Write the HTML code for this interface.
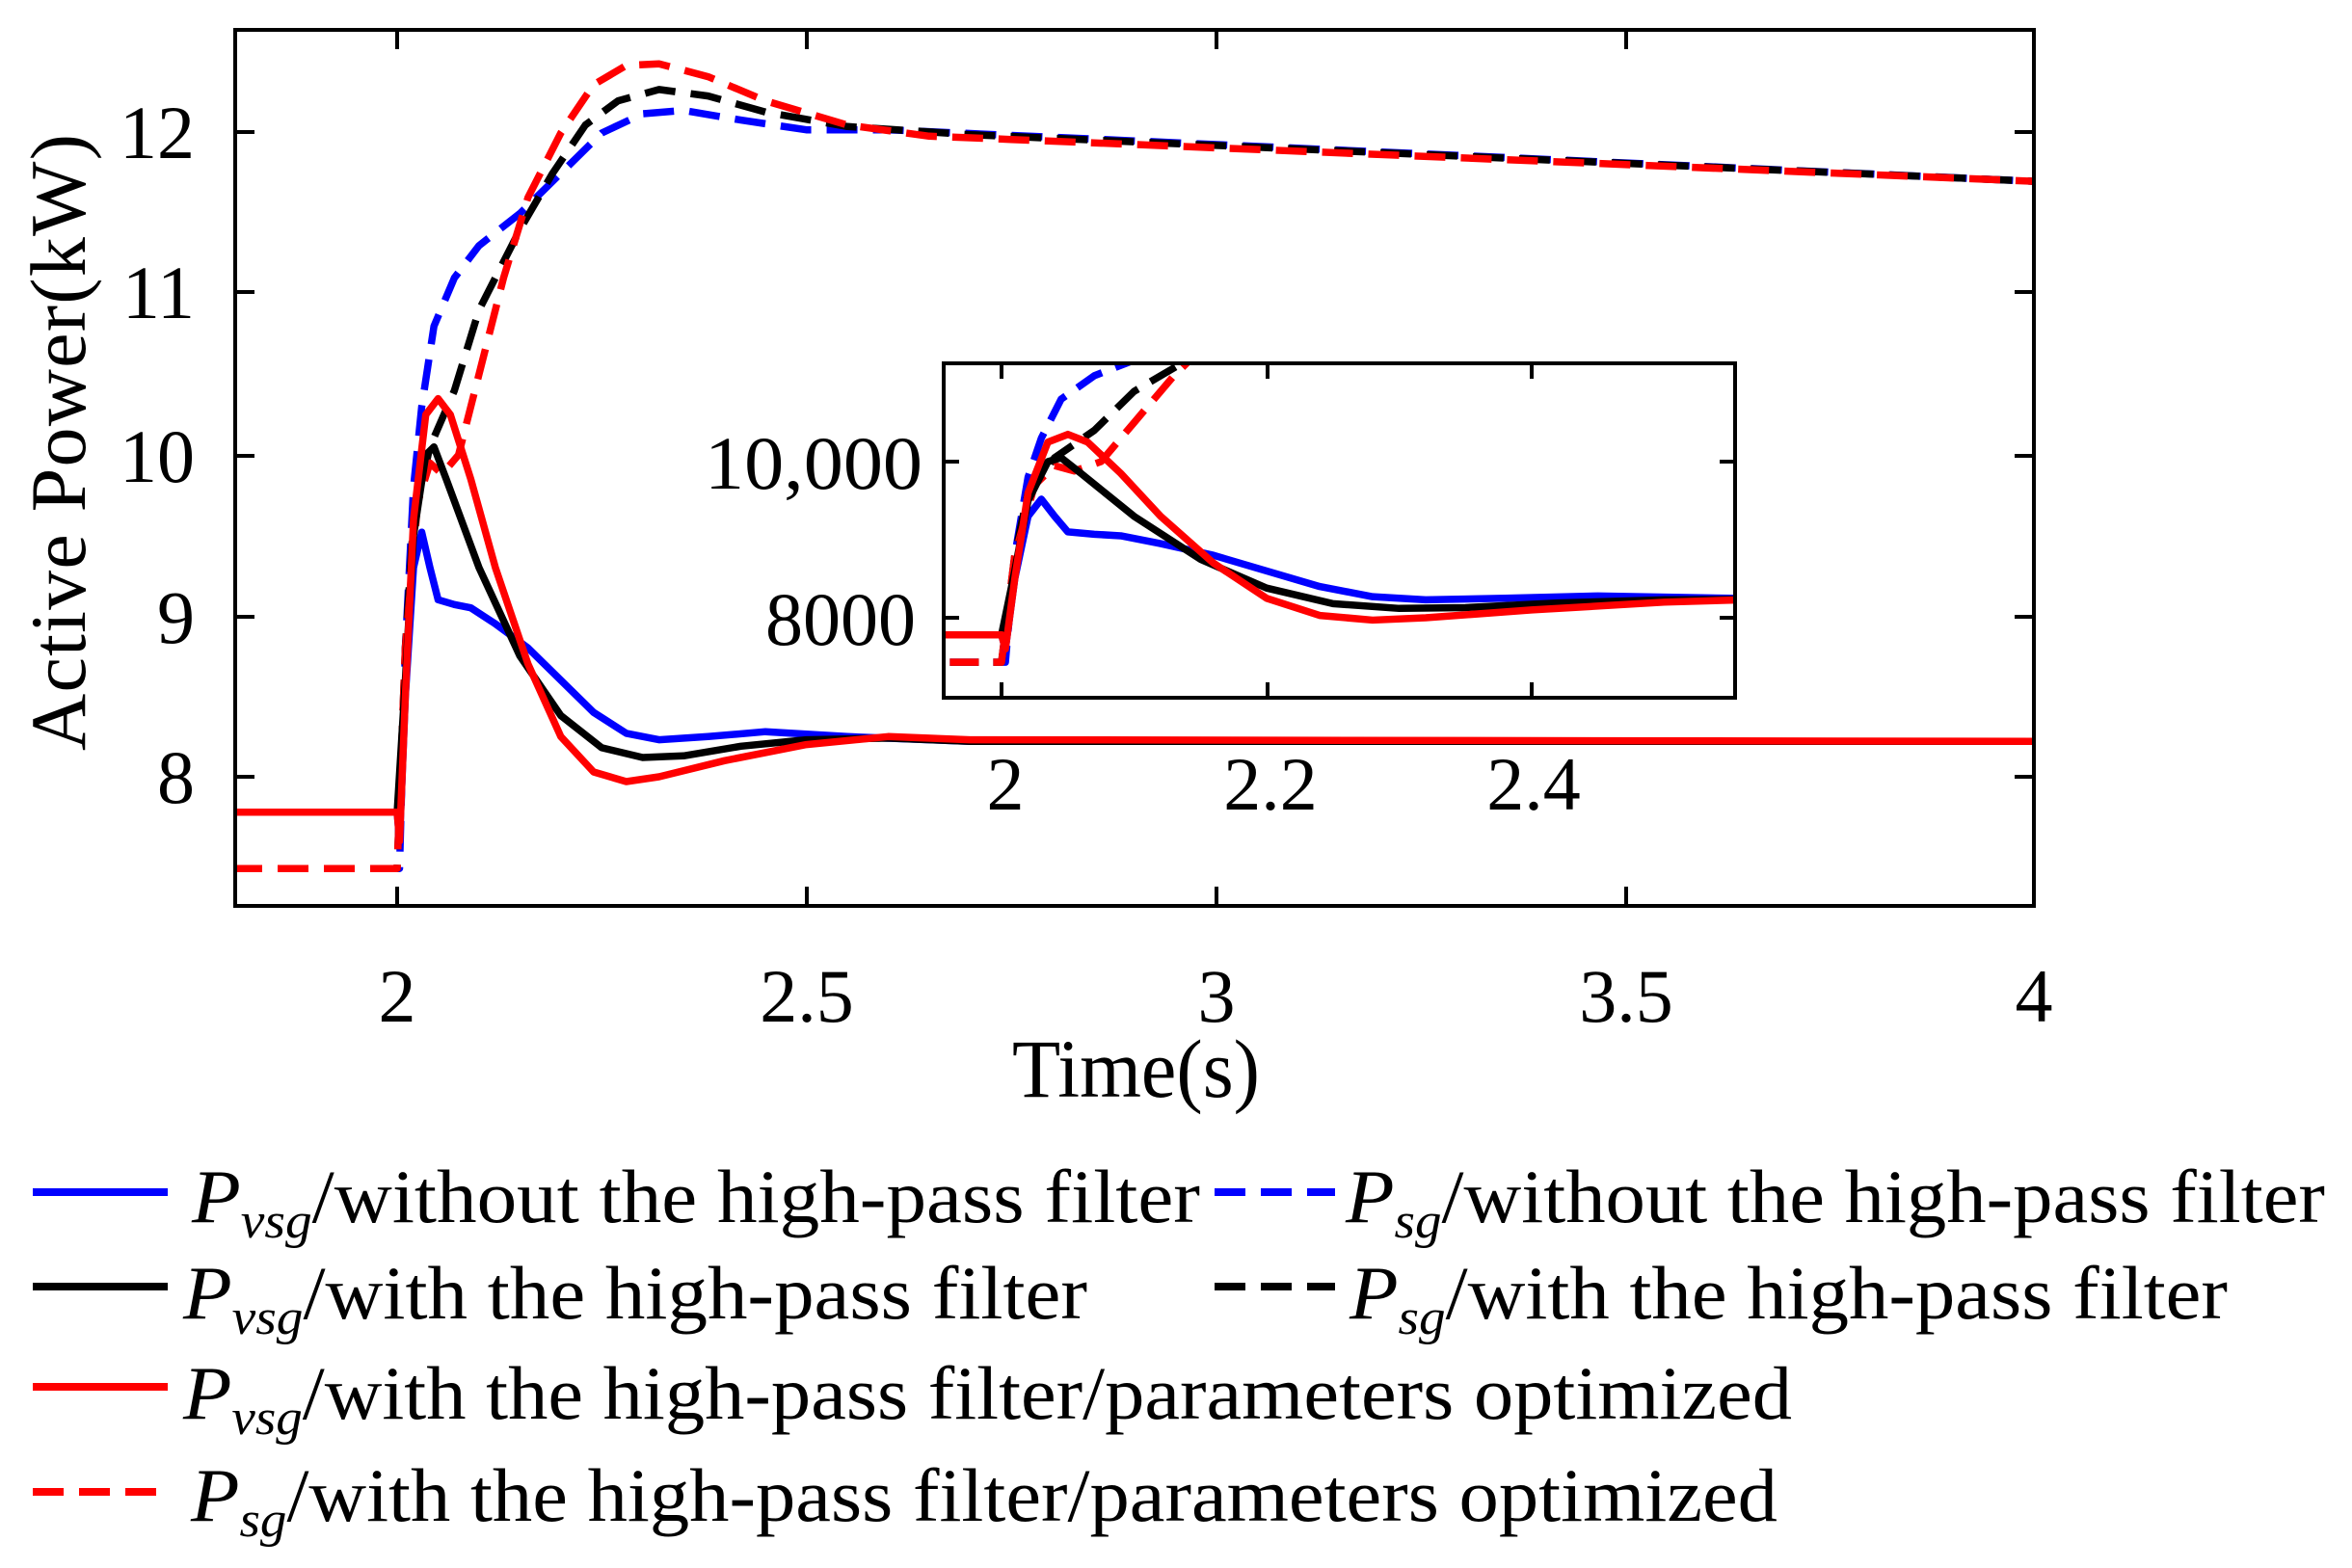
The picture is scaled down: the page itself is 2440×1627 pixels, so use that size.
<!DOCTYPE html>
<html><head><meta charset="utf-8"><style>
html,body{margin:0;padding:0;background:#fff;}
svg{display:block;}
text{font-family:"Liberation Serif",serif;fill:#000;}
</style></head><body>
<svg width="2440" height="1627" viewBox="0 0 2440 1627" xmlns="http://www.w3.org/2000/svg">
<defs>
<clipPath id="cm"><rect x="244" y="31" width="1866" height="909"/></clipPath>
<clipPath id="ci"><rect x="979" y="377" width="821" height="347"/></clipPath>
</defs>
<rect x="0" y="0" width="2440" height="1627" fill="#fff"/>
<g clip-path="url(#cm)" fill="none" stroke-width="7.5" stroke-linejoin="round">
<polyline stroke="#0000ff" stroke-dasharray="32,16" points="240,901.2 412,901.2 414.5,901.2 420.5,672.4 429,505.4 437.5,421.9 450.2,338.4 471.4,288.3 496.9,254.9 539.4,221.5 581.8,179.8 624.3,138 666.7,118 709.2,114.6 768.6,124.6 836.5,134.7 921.4,134.7 2110,188.1"/>
<polyline stroke="#000" stroke-dasharray="32,16" points="240,901.2 412,901.2 420.5,672.4 429,538.8 446,463.7 471.4,405.2 496.9,321.7 539.4,238.2 573.3,179.8 607.3,129.7 641.2,104.6 683.7,92.9 734.6,99.6 794.1,116.3 879,131.3 1006.3,139.7 2110,188.1"/>
<polyline stroke="#ff0000" stroke-dasharray="32,16" points="240,901.2 412,901.2 420.5,672.4 433.2,522.1 446,480.4 458.7,492 475.7,472 496.9,388.5 522.4,288.3 547.8,204.8 581.8,138 615.8,87.9 649.7,67.9 683.7,66.2 734.6,79.6 794.1,104.6 879,129.7 963.9,141.3 1048.8,144.7 2110,188.1"/>
<polyline stroke="#0000ff" points="240,842.7 412,842.7 414.5,872.8 420.5,722.5 429,588.9 437.5,552.2 446,588.9 454.5,622.3 471.4,627.3 488.4,630.7 513.9,647.3 547.8,672.4 581.8,705.8 615.8,739.2 649.7,760.9 683.7,767.6 734.6,764.3 794.1,759.2 879,764.3 1006.3,769.3 2110,769.3"/>
<polyline stroke="#000" points="240,842.7 412,842.7 420.5,705.8 429,555.5 441.7,472 450.2,463.7 462.9,497.1 496.9,588.9 539.4,680.8 581.8,742.5 624.3,775.9 666.7,786 709.2,784.3 768.6,774.3 836.5,767.6 921.4,765.9 1006.3,769.3 2110,769.3"/>
<polyline stroke="#ff0000" points="240,842.7 412,842.7 414.5,872.8 420.5,722.5 429,538.8 441.7,430.3 454.5,413.6 467.2,430.3 488.4,497.1 513.9,588.9 547.8,689.1 581.8,764.3 615.8,801 649.7,811 683.7,806 751.6,789.3 836.5,772.6 921.4,764.3 1006.3,767.6 2110,769.3"/>
</g>
<rect x="979" y="377" width="821" height="347" fill="#fff" stroke="none"/>
<g clip-path="url(#ci)">
<g transform="matrix(1.6196,0,0,0.485,371.7,250.1)" fill="none" stroke-width="7.5" stroke-linejoin="round">
<polyline vector-effect="non-scaling-stroke" stroke="#0000ff" stroke-dasharray="30,15" points="240,901.2 412,901.2 414.5,901.2 420.5,672.4 429,505.4 437.5,421.9 450.2,338.4 471.4,288.3 496.9,254.9 539.4,221.5 581.8,179.8 624.3,138 666.7,118 709.2,114.6 768.6,124.6 836.5,134.7 921.4,134.7 2110,188.1"/>
<polyline vector-effect="non-scaling-stroke" stroke="#000" stroke-dasharray="30,15" points="240,901.2 412,901.2 420.5,672.4 429,538.8 446,463.7 471.4,405.2 496.9,321.7 539.4,238.2 573.3,179.8 607.3,129.7 641.2,104.6 683.7,92.9 734.6,99.6 794.1,116.3 879,131.3 1006.3,139.7 2110,188.1"/>
<polyline vector-effect="non-scaling-stroke" stroke="#ff0000" stroke-dasharray="30,15" points="240,901.2 412,901.2 420.5,672.4 433.2,522.1 446,480.4 458.7,492 475.7,472 496.9,388.5 522.4,288.3 547.8,204.8 581.8,138 615.8,87.9 649.7,67.9 683.7,66.2 734.6,79.6 794.1,104.6 879,129.7 963.9,141.3 1048.8,144.7 2110,188.1"/>
<polyline vector-effect="non-scaling-stroke" stroke="#0000ff" points="240,842.7 412,842.7 414.5,872.8 420.5,722.5 429,588.9 437.5,552.2 446,588.9 454.5,622.3 471.4,627.3 488.4,630.7 513.9,647.3 547.8,672.4 581.8,705.8 615.8,739.2 649.7,760.9 683.7,767.6 734.6,764.3 794.1,759.2 879,764.3 1006.3,769.3 2110,769.3"/>
<polyline vector-effect="non-scaling-stroke" stroke="#000" points="240,842.7 412,842.7 420.5,705.8 429,555.5 441.7,472 450.2,463.7 462.9,497.1 496.9,588.9 539.4,680.8 581.8,742.5 624.3,775.9 666.7,786 709.2,784.3 768.6,774.3 836.5,767.6 921.4,765.9 1006.3,769.3 2110,769.3"/>
<polyline vector-effect="non-scaling-stroke" stroke="#ff0000" points="240,842.7 412,842.7 414.5,872.8 420.5,722.5 429,538.8 441.7,430.3 454.5,413.6 467.2,430.3 488.4,497.1 513.9,588.9 547.8,689.1 581.8,764.3 615.8,801 649.7,811 683.7,806 751.6,789.3 836.5,772.6 921.4,764.3 1006.3,767.6 2110,769.3"/>
</g>
</g>
<g stroke="#000" stroke-width="4" fill="none">
<rect x="244" y="31" width="1866" height="909"/>
<path d="M412,940v-20M837,940v-20M1262,940v-20M1687,940v-20M412,31v20M837,31v20M1262,31v20M1687,31v20
M244,806h20M244,640h20M244,473h20M244,303h20M244,137h20M2110,806h-20M2110,640h-20M2110,473h-20M2110,303h-20M2110,137h-20"/>
<rect x="979" y="377" width="821" height="347"/>
<path d="M1039,724v-16M1315,724v-16M1589,724v-16M1039,377v16M1315,377v16M1589,377v16M979,479h16M979,641h16M1800,479h-16M1800,641h-16"/>
</g>
<g font-size="78">
<text x="202" y="833" text-anchor="end">8</text>
<text x="202" y="667" text-anchor="end">9</text>
<text x="202" y="500" text-anchor="end">10</text>
<text x="202" y="330" text-anchor="end">11</text>
<text x="202" y="164" text-anchor="end">12</text>
<text x="412" y="1060" text-anchor="middle">2</text>
<text x="837" y="1060" text-anchor="middle">2.5</text>
<text x="1262" y="1060" text-anchor="middle">3</text>
<text x="1687" y="1060" text-anchor="middle">3.5</text>
<text x="2110" y="1060" text-anchor="middle">4</text>
<text x="957" y="507" text-anchor="end" textLength="226" lengthAdjust="spacingAndGlyphs">10,000</text>
<text x="950" y="669" text-anchor="end">8000</text>
<text x="1043" y="840" text-anchor="middle">2</text>
<text x="1318" y="840" text-anchor="middle">2.2</text>
<text x="1591" y="840" text-anchor="middle">2.4</text>
</g>
<text x="1050" y="1138" font-size="86" textLength="257" lengthAdjust="spacingAndGlyphs">Time(s)</text>
<text transform="translate(88,459) rotate(-90)" font-size="82" text-anchor="middle" textLength="640" lengthAdjust="spacing">Active Power(kW)</text>
<g stroke-width="8" fill="none">
<path d="M34,1237h140" stroke="#0000ff"/>
<path d="M34,1335h140" stroke="#000"/>
<path d="M34,1439h140" stroke="#ff0000"/>
<path d="M34,1548h140" stroke="#ff0000" stroke-dasharray="32,16"/>
<path d="M1260,1237h125" stroke="#0000ff" stroke-dasharray="32,16"/>
<path d="M1260,1335h125" stroke="#000" stroke-dasharray="32,16"/>
</g>
<g font-size="78">
<text x="199" y="1268" textLength="1046" lengthAdjust="spacingAndGlyphs"><tspan font-style="italic">P</tspan><tspan font-style="italic" font-size="52" dy="16">vsg</tspan><tspan dy="-16">/without the high-pass filter</tspan></text>
<text x="1396" y="1268" textLength="1016" lengthAdjust="spacingAndGlyphs"><tspan font-style="italic">P</tspan><tspan font-style="italic" font-size="52" dy="16">sg</tspan><tspan dy="-16">/without the high-pass filter</tspan></text>
<text x="190" y="1368" textLength="938" lengthAdjust="spacingAndGlyphs"><tspan font-style="italic">P</tspan><tspan font-style="italic" font-size="52" dy="16">vsg</tspan><tspan dy="-16">/with the high-pass filter</tspan></text>
<text x="1400" y="1368" textLength="911" lengthAdjust="spacingAndGlyphs"><tspan font-style="italic">P</tspan><tspan font-style="italic" font-size="52" dy="16">sg</tspan><tspan dy="-16">/with the high-pass filter</tspan></text>
<text x="190" y="1472" textLength="1669" lengthAdjust="spacingAndGlyphs"><tspan font-style="italic">P</tspan><tspan font-style="italic" font-size="52" dy="16">vsg</tspan><tspan dy="-16">/with the high-pass filter/parameters optimized</tspan></text>
<text x="198" y="1578" textLength="1646" lengthAdjust="spacingAndGlyphs"><tspan font-style="italic">P</tspan><tspan font-style="italic" font-size="52" dy="16">sg</tspan><tspan dy="-16">/with the high-pass filter/parameters optimized</tspan></text>
</g>
</svg>
</body></html>
